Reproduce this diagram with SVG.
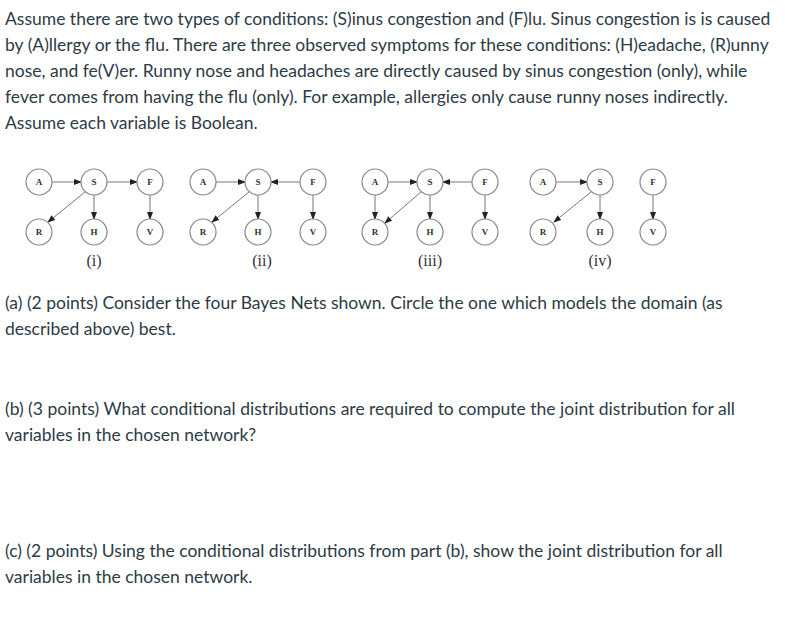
<svg xmlns="http://www.w3.org/2000/svg" width="785" height="624" viewBox="0 0 785 624">
<style>
.t{font-family:Lato,"Liberation Sans",sans-serif;font-size:17.5px;fill:#2d3b45}
.n circle{fill:#fff;stroke:#888;stroke-width:1.2}
.n text{font-family:"Liberation Serif",serif;font-size:9px;font-weight:bold;fill:#333;text-anchor:middle}
.e line{stroke:#777;stroke-width:1;marker-end:url(#ah)}
.lb{font-family:"Liberation Serif",serif;font-size:16px;fill:#333;text-anchor:middle}
</style>
<defs><marker id="ah" markerWidth="8" markerHeight="6" refX="7" refY="3" orient="auto" markerUnits="userSpaceOnUse"><path d="M0,0L8,3L0,6z" fill="#222"/></marker></defs>
<rect width="785" height="624" fill="#fff"/>
<g id="text">
<text class="t" x="5" y="25">Assume there are two types of conditions: (S)inus congestion and (F)lu. Sinus congestion is is caused</text>
<text class="t" x="5" y="51">by (A)llergy or the flu. There are three observed symptoms for these conditions: (H)eadache, (R)unny</text>
<text class="t" x="5" y="77">nose, and fe(V)er. Runny nose and headaches are directly caused by sinus congestion (only), while</text>
<text class="t" x="5" y="103">fever comes from having the flu (only). For example, allergies only cause runny noses indirectly.</text>
<text class="t" x="5" y="129">Assume each variable is Boolean.</text>
<text class="t" x="5" y="309">(a) (2 points) Consider the four Bayes Nets shown. Circle the one which models the domain (as</text>
<text class="t" x="5" y="335">described above) best.</text>
<text class="t" x="5" y="415">(b) (3 points) What conditional distributions are required to compute the joint distribution for all</text>
<text class="t" x="5" y="441">variables in the chosen network?</text>
<text class="t" x="5" y="557">(c) (2 points) Using the conditional distributions from part (b), show the joint distribution for all</text>
<text class="t" x="5" y="583">variables in the chosen network.</text>
</g>
<g id="connectors" class="e">
<line x1="52" y1="182" x2="81" y2="182"/><line x1="107" y1="182" x2="137" y2="182"/><line x1="85" y1="192" x2="48" y2="222"/><line x1="94" y1="195" x2="94" y2="219"/><line x1="150" y1="195" x2="150" y2="219"/>
<line x1="216" y1="182" x2="245" y2="182"/><line x1="300" y1="182" x2="271" y2="182"/><line x1="249" y1="192" x2="212" y2="222"/><line x1="258" y1="195" x2="258" y2="219"/><line x1="313" y1="195" x2="313" y2="219"/>
<line x1="388" y1="182" x2="417" y2="182"/><line x1="472" y1="182" x2="443" y2="182"/><line x1="375" y1="195" x2="375" y2="219"/><line x1="421" y1="192" x2="385" y2="223"/><line x1="430" y1="195" x2="430" y2="219"/><line x1="485" y1="195" x2="485" y2="219"/>
<line x1="556" y1="182" x2="587" y2="182"/><line x1="591" y1="192" x2="554" y2="222"/><line x1="600" y1="195" x2="600" y2="219"/><line x1="653" y1="195" x2="653" y2="219"/>
</g>
<g class="n">
<g id="i-A"><circle cx="39" cy="182" r="13"/><text x="39" y="185">A</text></g>
<g id="i-S"><circle cx="94" cy="182" r="13"/><text x="94" y="185">S</text></g>
<g id="i-F"><circle cx="150" cy="182" r="13"/><text x="150" y="185">F</text></g>
<g id="i-R"><circle cx="39" cy="232" r="13"/><text x="39" y="235">R</text></g>
<g id="i-H"><circle cx="94" cy="232" r="13"/><text x="94" y="235">H</text></g>
<g id="i-V"><circle cx="150" cy="232" r="13"/><text x="150" y="235">V</text></g>
<g id="ii-A"><circle cx="203" cy="182" r="13"/><text x="203" y="185">A</text></g>
<g id="ii-S"><circle cx="258" cy="182" r="13"/><text x="258" y="185">S</text></g>
<g id="ii-F"><circle cx="313" cy="182" r="13"/><text x="313" y="185">F</text></g>
<g id="ii-R"><circle cx="203" cy="232" r="13"/><text x="203" y="235">R</text></g>
<g id="ii-H"><circle cx="258" cy="232" r="13"/><text x="258" y="235">H</text></g>
<g id="ii-V"><circle cx="313" cy="232" r="13"/><text x="313" y="235">V</text></g>
<g id="iii-A"><circle cx="375" cy="182" r="13"/><text x="375" y="185">A</text></g>
<g id="iii-S"><circle cx="430" cy="182" r="13"/><text x="430" y="185">S</text></g>
<g id="iii-F"><circle cx="485" cy="182" r="13"/><text x="485" y="185">F</text></g>
<g id="iii-R"><circle cx="375" cy="232" r="13"/><text x="375" y="235">R</text></g>
<g id="iii-H"><circle cx="430" cy="232" r="13"/><text x="430" y="235">H</text></g>
<g id="iii-V"><circle cx="485" cy="232" r="13"/><text x="485" y="235">V</text></g>
<g id="iv-A"><circle cx="543" cy="182" r="13"/><text x="543" y="185">A</text></g>
<g id="iv-S"><circle cx="600" cy="182" r="13"/><text x="600" y="185">S</text></g>
<g id="iv-F"><circle cx="653" cy="182" r="13"/><text x="653" y="185">F</text></g>
<g id="iv-R"><circle cx="543" cy="232" r="13"/><text x="543" y="235">R</text></g>
<g id="iv-H"><circle cx="600" cy="232" r="13"/><text x="600" y="235">H</text></g>
<g id="iv-V"><circle cx="653" cy="232" r="13"/><text x="653" y="235">V</text></g>
</g>
<g id="labels">
<text class="lb" x="94" y="266">(i)</text><text class="lb" x="262" y="266">(ii)</text><text class="lb" x="430" y="266">(iii)</text><text class="lb" x="600" y="266">(iv)</text>
</g>
</svg>
